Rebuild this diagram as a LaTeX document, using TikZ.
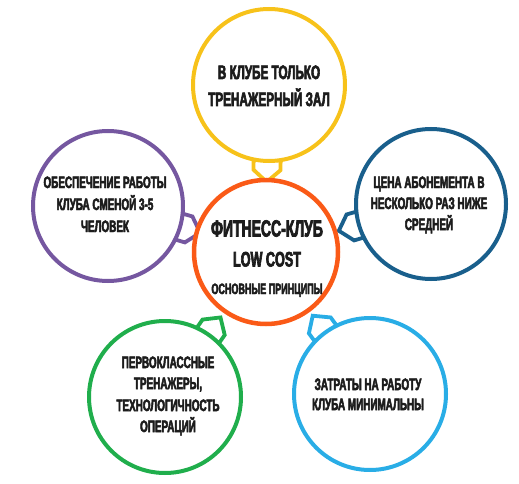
\documentclass[tikz,border=0pt]{standalone}
\usepackage{fontspec}
\newfontfamily\cond[FakeStretch=0.6,FakeBold=3]{Liberation Sans Bold}
\definecolor{cyel}{HTML}{F7C21A}
\definecolor{cora}{HTML}{FA5A17}
\definecolor{cpur}{HTML}{7557A0}
\definecolor{cdbl}{HTML}{195F8C}
\definecolor{cgrn}{HTML}{20AE4C}
\definecolor{clbl}{HTML}{29ADE6}
\definecolor{ctxt}{HTML}{1C1C1C}
\tikzset{
  ring/.style={circle, draw=#1, line width=4pt, fill=white, inner sep=0pt},
  housearrow/.style={draw=#1, line width=3.8pt, fill=white, line join=miter},
  lbl/.style={anchor=base, inner sep=0pt, text=ctxt, font=\cond\fontsize{16.5}{20}\selectfont},
  lblbig/.style={anchor=base, inner sep=0pt, text=ctxt, font=\cond\fontsize{19.5}{24}\selectfont},
}
\newcommand\myhouse[4]{% center, radius, rotation, colour
  \draw[housearrow=#4, shift={#1}, rotate=#3]
    (#2-1,-13.5) -- (#2+9,-13.5) -- (#2+21,0) -- (#2+9,13.5) -- (#2-1,13.5) -- cycle;}
\begin{document}
\begin{tikzpicture}[x=1pt,y=-1pt]
\useasboundingbox (0,0) rectangle (519,484);
% arrows
\myhouse{(269,85)}{76}{-91.4}{cyel}
\myhouse{(108,206)}{75}{-16.2}{cpur}
\myhouse{(431,204)}{75}{-163.8}{cdbl}
\myhouse{(165,397)}{76}{55.1}{cgrn}
\myhouse{(370,394)}{76}{126.2}{clbl}
% outer circles
\node[ring=cyel, minimum size=152pt] (yel) at (269,85) {};
\node[ring=cpur, minimum size=150pt] (pur) at (108,206) {};
\node[ring=cdbl, minimum size=150pt] (dbl) at (431,204) {};
\node[ring=cgrn, minimum size=152pt] (grn) at (165,397) {};
\node[ring=clbl, minimum size=152pt] (lbl) at (370,394) {};
% centre
\node[ring=cora, line width=4.5pt, minimum size=144pt] (ora) at (266,252) {};
% texts
\node[lblbig] (y1) at (269,79) {В КЛУБЕ ТОЛЬКО};
\node[lblbig] (y2) at (269,106) {ТРЕНАЖЕРНЫЙ ЗАЛ};
\node[lbl] (p1) at (105,188) {ОБЕСПЕЧЕНИЕ РАБОТЫ};
\node[lbl] (p2) at (105,210) {КЛУБА СМЕНОЙ 3-5};
\node[lbl] (p3) at (105,232) {ЧЕЛОВЕК};
\node[lbl] (b1) at (429,188) {ЦЕНА АБОНЕМЕНТА В};
\node[lbl] (b2) at (429,209) {НЕСКОЛЬКО РАЗ НИЖЕ};
\node[lbl] (b3) at (429,230) {СРЕДНЕЙ};
\node[lbl] (g1) at (168,368) {ПЕРВОКЛАССНЫЕ};
\node[lbl] (g2) at (168,389) {ТРЕНАЖЕРЫ,};
\node[lbl] (g3) at (168,411) {ТЕХНОЛОГИЧНОСТЬ};
\node[lbl] (g4) at (168,432) {ОПЕРАЦИЙ};
\node[lbl] (l1) at (368,390) {ЗАТРАТЫ НА РАБОТУ};
\node[lbl] (l2) at (368,410) {КЛУБА МИНИМАЛЬНЫ};
\node[anchor=base, inner sep=0pt, text=ctxt, font=\cond\fontsize{23.3}{28}\selectfont] (c1) at (267,236.5) {ФИТНЕСС-КЛУБ};
\node[anchor=base, inner sep=0pt, text=ctxt, font=\cond\fontsize{21}{25}\selectfont] (c2) at (267,266.5) {LOW COST};
\node[anchor=base, inner sep=0pt, text=ctxt, font=\cond\fontsize{15}{18}\selectfont] (c3) at (267,294) {ОСНОВНЫЕ ПРИНЦИПЫ};
\end{tikzpicture}
\end{document}
